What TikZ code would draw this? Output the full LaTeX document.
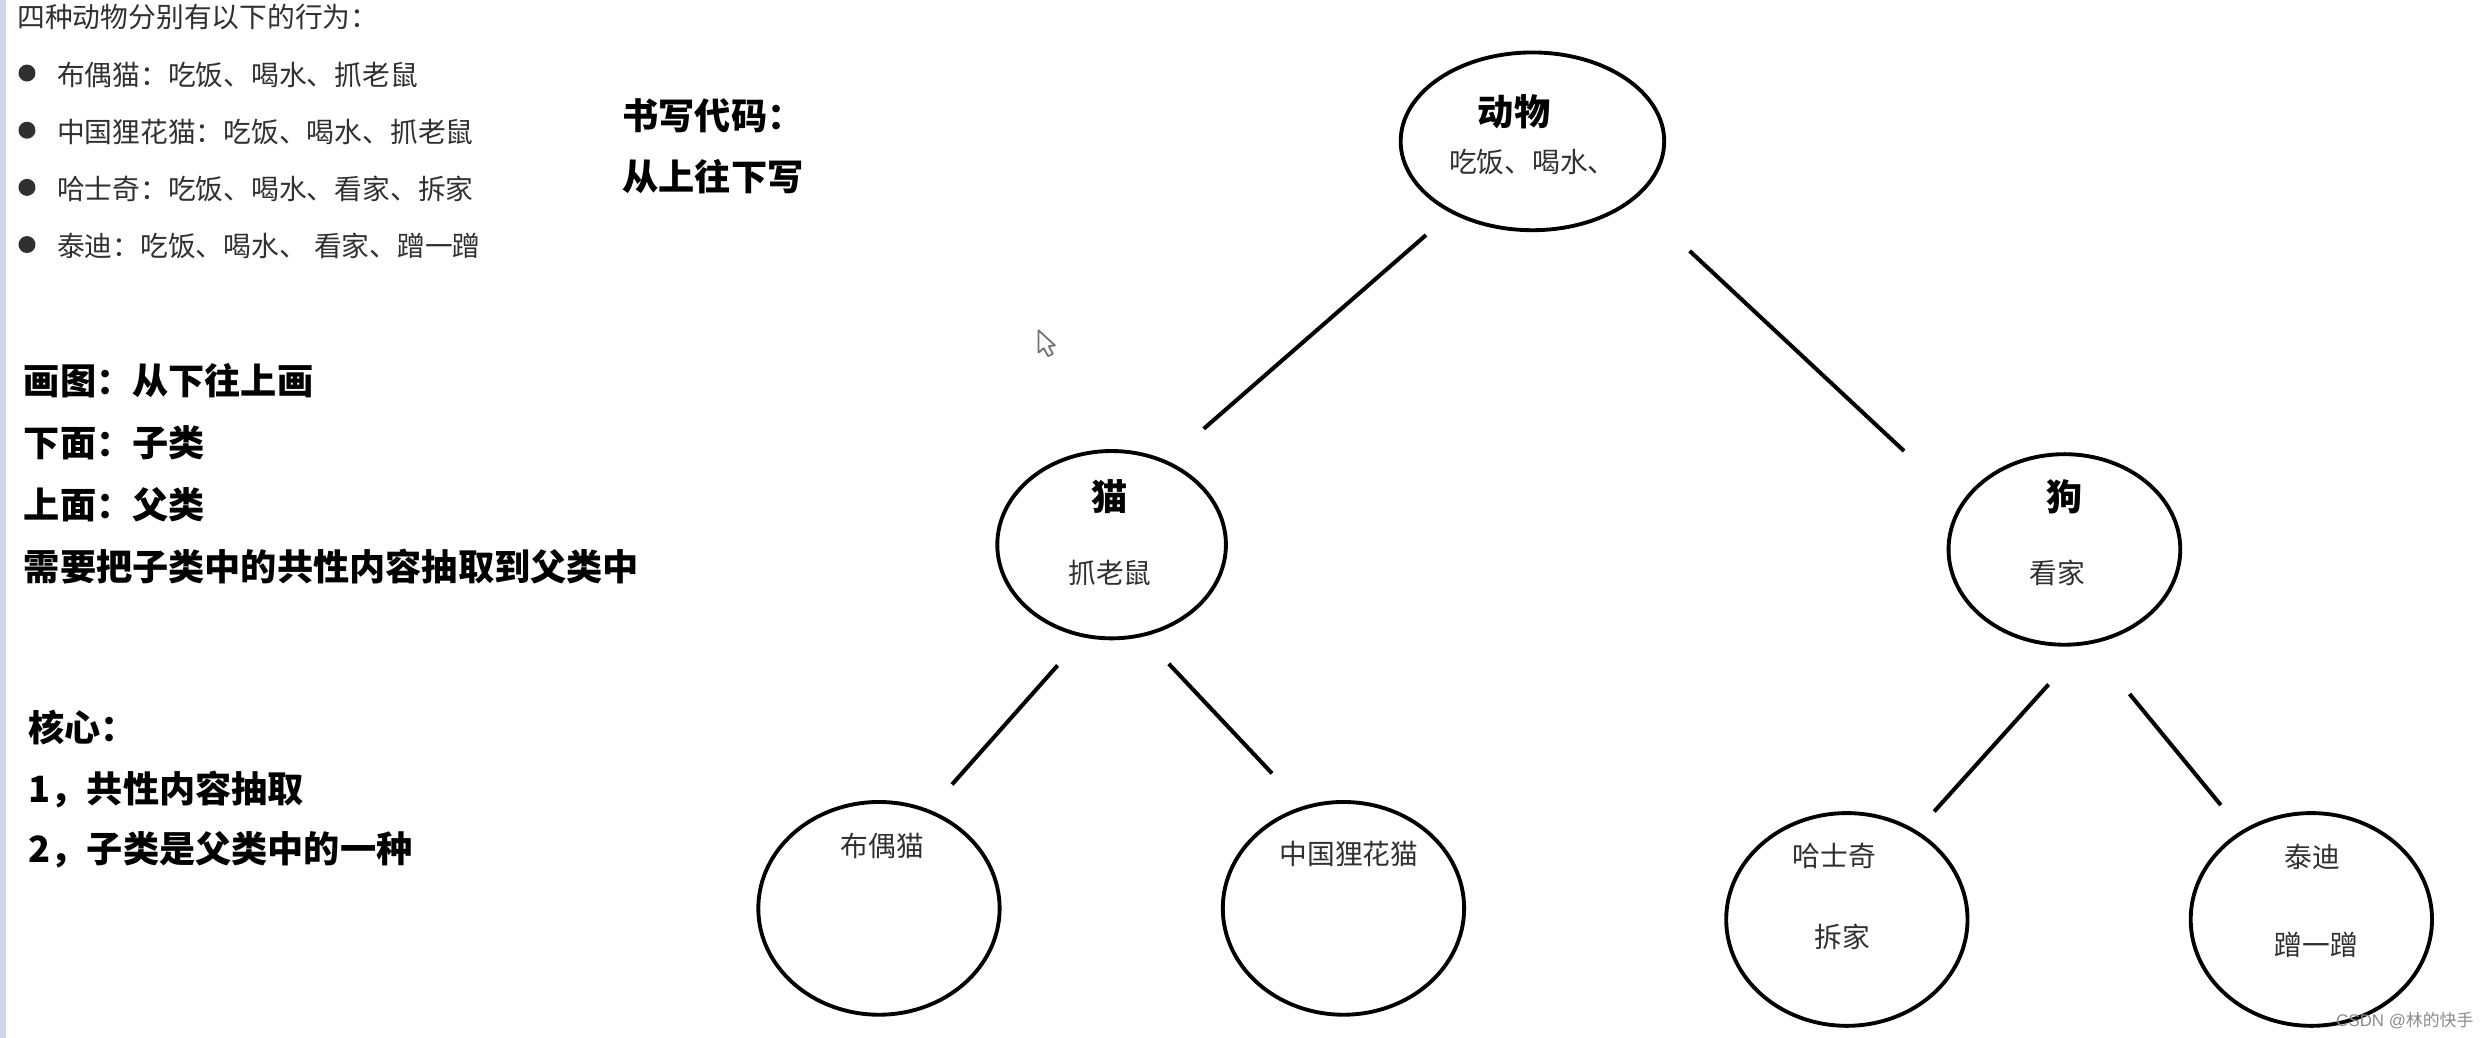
\documentclass[tikz,border=0pt]{standalone}
\usepackage{fontspec}
\setmainfont{Noto Sans CJK SC}
\newfontfamily\wmfont{Liberation Sans}
\usetikzlibrary{shapes.geometric}
\definecolor{txt}{HTML}{303030}
\definecolor{band}{RGB}{207,216,234}
\tikzset{
  x=0.01588cm,y=-0.01588cm,
  plain/.style={inner sep=0pt,outer sep=0pt,text=txt,font=\fontsize{7.9pt}{9pt}\selectfont},
  strong/.style={inner sep=0pt,outer sep=0pt,text=black,font=\fontsize{10.3pt}{12pt}\selectfont\bfseries},
  flush/.style={anchor=west},
  oval/.style={draw=black,line width=1.1pt,ellipse,inner sep=0pt,outer sep=0pt},
  small oval/.style={oval,minimum width=2.414cm,minimum height=2.128cm},
  link/.style={draw=black,line width=1.15pt},
  bul/.style={circle,fill=txt,inner sep=0pt,outer sep=0pt,minimum size=0.17cm}
}
\begin{document}
\begin{tikzpicture}
\useasboundingbox (0,0) rectangle (1568,653.6);
\fill[white] (0,0) rectangle (1568,653.6);
\fill[band] (0,0) rectangle (4,653.6);

% left text
\node[plain,flush] (t0) at (11,11) {四种动物分别有以下的行为：};
\node[bul] (b1) at (17,46) {};
\node[bul] (b2) at (17,82) {};
\node[bul] (b3) at (17,118) {};
\node[bul] (b4) at (17,154) {};
\node[plain,flush] (t1) at (36,47) {布偶猫：吃饭、喝水、抓老鼠};
\node[plain,flush] (t2) at (36,83) {中国狸花猫：吃饭、喝水、抓老鼠};
\node[plain,flush] (t3) at (36,119) {哈士奇：吃饭、喝水、看家、拆家};
\node[plain,flush] (t4) at (36,155) {泰迪：吃饭、喝水、\hspace{2pt}看家、蹭一蹭};

\node[strong,flush] (w1) at (392,73) {书写代码：};
\node[strong,flush] (w2) at (392,111) {从上往下写};

\node[strong,flush] (d1) at (15,240) {画图：从下往上画};
\node[strong,flush] (d2) at (15,279) {下面：子类};
\node[strong,flush] (d3) at (15,318) {上面：父类};
\node[strong,flush] (d4) at (15,357) {需要把子类中的共性内容抽取到父类中};

\node[strong,flush] (c1) at (18,458) {核心：};
\node[strong,flush] (c2) at (18,497) {1，共性内容抽取};
\node[strong,flush] (c3) at (18,535) {2，子类是父类中的一种};

% ovals
\node[oval,minimum width=2.636cm,minimum height=1.778cm] (animal) at (965,89) {};
\node[oval,minimum width=2.287cm,minimum height=1.874cm] (cat) at (700,343) {};
\node[oval,minimum width=2.318cm,minimum height=1.906cm] (dog) at (1300,346) {};
\node[small oval] (bo) at (553.5,572) {};
\node[small oval] (zg) at (846,572) {};
\node[small oval] (hs) at (1163,579) {};
\node[small oval] (td) at (1455.5,579) {};

% connectors
\draw[link] ([shift={(-67,59)}]animal.center) -- ([shift={(58,-73)}]cat.center);
\draw[link] ([shift={(99,69)}]animal.center) -- ([shift={(-101,-62)}]dog.center);
\draw[link] ([shift={(-34,76)}]cat.center) -- ([shift={(46,-78)}]bo.center);
\draw[link] ([shift={(36,75)}]cat.center) -- ([shift={(-45,-85)}]zg.center);
\draw[link] ([shift={(-10,85)}]dog.center) -- ([shift={(55,-68)}]hs.center);
\draw[link] ([shift={(41,91)}]dog.center) -- ([shift={(-57,-72)}]td.center);

% labels in ovals
\node[strong] (la) at (953.5,70.5) {动物};
\node[plain] (la2) at (965,102) {吃饭、喝水、};
\node[strong] (lc) at (699,313) {猫};
\node[plain] (lc2) at (699,360.5) {抓老鼠};
\node[strong] (ld) at (1300,313) {狗};
\node[plain] (ld2) at (1295.5,360.5) {看家};
\node[plain] (lb) at (555.5,533) {布偶猫};
\node[plain] (lz) at (849.5,538) {中国狸花猫};
\node[plain] (lh) at (1155,539) {哈士奇};
\node[plain] (lh2) at (1160,590) {拆家};
\node[plain] (lt) at (1456,539.5) {泰迪};
\node[plain] (lt2) at (1458.5,595) {蹭一蹭};

% mouse pointer
\draw[draw=black!55,fill=white,line width=0.5pt,line join=round]
  (654,208) -- (654,222) -- (657.3,219.3) -- (660,224.3) -- (663,222.8) -- (660.5,218) -- (664.3,217.5) -- cycle;

% watermark
\node[inner sep=0pt,anchor=east,text=black!45,font=\fontsize{4.8pt}{6pt}\selectfont] (wm) at (1558,642.5) {{\wmfont CSDN @}林的快手};
\end{tikzpicture}
\end{document}
